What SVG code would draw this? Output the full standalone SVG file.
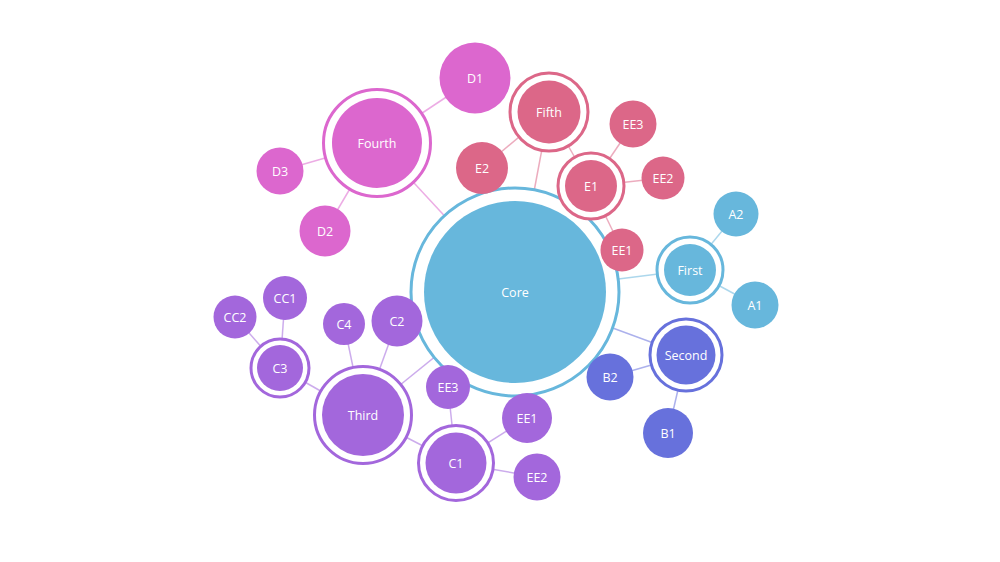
<svg xmlns="http://www.w3.org/2000/svg" width="1000" height="562" viewBox="0 0 1000 562">
<style>
text{font-family:"Open Sans","Noto Sans",sans-serif;font-size:12.5px;fill:#ffffff;text-anchor:middle;dominant-baseline:central}
.ring{fill:#ffffff;stroke-width:3}
line{stroke-width:1.5;stroke-opacity:0.55}
.cA{fill:#67b7dc}.sA{stroke:#67b7dc}
.cB{fill:#6771dc}.sB{stroke:#6771dc}
.cC{fill:#a367dc}.sC{stroke:#a367dc}
.cD{fill:#dc67ce}.sD{stroke:#dc67ce}
.cE{fill:#dc6788}.sE{stroke:#dc6788}
</style>
<rect width="1000" height="562" fill="#ffffff"/>
<g id="connectors">
<line class="sA" x1="515" y1="292" x2="690" y2="270"/>
<line class="sB" x1="515" y1="292" x2="686" y2="355"/>
<line class="sC" x1="515" y1="292" x2="363" y2="415"/>
<line class="sD" x1="515" y1="292" x2="377" y2="143"/>
<line class="sE" x1="515" y1="292" x2="549" y2="112"/>
<line class="sA" x1="690" y1="270" x2="736" y2="214"/>
<line class="sA" x1="690" y1="270" x2="755" y2="305"/>
<line class="sB" x1="686" y1="355" x2="610" y2="377"/>
<line class="sB" x1="686" y1="355" x2="668" y2="433"/>
<line class="sC" x1="363" y1="415" x2="280" y2="368"/>
<line class="sC" x1="363" y1="415" x2="344" y2="324"/>
<line class="sC" x1="363" y1="415" x2="397" y2="321"/>
<line class="sC" x1="363" y1="415" x2="456" y2="463"/>
<line class="sC" x1="280" y1="368" x2="285" y2="298"/>
<line class="sC" x1="280" y1="368" x2="235" y2="317"/>
<line class="sC" x1="456" y1="463" x2="448" y2="387"/>
<line class="sC" x1="456" y1="463" x2="527" y2="418"/>
<line class="sC" x1="456" y1="463" x2="537" y2="477"/>
<line class="sD" x1="377" y1="143" x2="475" y2="78"/>
<line class="sD" x1="377" y1="143" x2="280" y2="171"/>
<line class="sD" x1="377" y1="143" x2="325" y2="231"/>
<line class="sE" x1="549" y1="112" x2="482" y2="168"/>
<line class="sE" x1="549" y1="112" x2="591" y2="186"/>
<line class="sE" x1="591" y1="186" x2="633" y2="124"/>
<line class="sE" x1="591" y1="186" x2="663" y2="178"/>
<line class="sE" x1="591" y1="186" x2="622" y2="250"/>
</g>
<g id="core"><circle class="ring sA" cx="515" cy="292" r="104"/><circle class="cA" cx="515" cy="292" r="91"/><text x="515" y="292">Core</text></g>
<g id="first"><circle class="ring sA" cx="690" cy="270" r="33"/><circle class="cA" cx="690" cy="270" r="26"/><text x="690" y="270">First</text></g>
<g id="a2"><circle class="cA" cx="736" cy="214" r="22.5"/><text x="736" y="214">A2</text></g>
<g id="a1"><circle class="cA" cx="755" cy="305" r="23.5"/><text x="755" y="305">A1</text></g>
<g id="second"><circle class="ring sB" cx="686" cy="355" r="36"/><circle class="cB" cx="686" cy="355" r="29.5"/><text x="686" y="355">Second</text></g>
<g id="b2"><circle class="cB" cx="610" cy="377" r="23.5"/><text x="610" y="377">B2</text></g>
<g id="b1"><circle class="cB" cx="668" cy="433" r="25"/><text x="668" y="433">B1</text></g>
<g id="third"><circle class="ring sC" cx="363" cy="415" r="48.5"/><circle class="cC" cx="363" cy="415" r="41"/><text x="363" y="415">Third</text></g>
<g id="c3"><circle class="ring sC" cx="280" cy="368" r="29"/><circle class="cC" cx="280" cy="368" r="23"/><text x="280" y="368">C3</text></g>
<g id="cc1"><circle class="cC" cx="285" cy="298" r="22"/><text x="285" y="298">CC1</text></g>
<g id="cc2"><circle class="cC" cx="235" cy="317" r="21.5"/><text x="235" y="317">CC2</text></g>
<g id="c4"><circle class="cC" cx="344" cy="324" r="21"/><text x="344" y="324">C4</text></g>
<g id="c2"><circle class="cC" cx="397" cy="321" r="25.5"/><text x="397" y="321">C2</text></g>
<g id="c1"><circle class="ring sC" cx="456" cy="463" r="37.5"/><circle class="cC" cx="456" cy="463" r="30.5"/><text x="456" y="463">C1</text></g>
<g id="c-ee3"><circle class="cC" cx="448" cy="387" r="22"/><text x="448" y="387">EE3</text></g>
<g id="c-ee1"><circle class="cC" cx="527" cy="418" r="25"/><text x="527" y="418">EE1</text></g>
<g id="c-ee2"><circle class="cC" cx="537" cy="477" r="23.5"/><text x="537" y="477">EE2</text></g>
<g id="fourth"><circle class="ring sD" cx="377" cy="143" r="53.5"/><circle class="cD" cx="377" cy="143" r="45"/><text x="377" y="143">Fourth</text></g>
<g id="d1"><circle class="cD" cx="475" cy="78" r="35.5"/><text x="475" y="78">D1</text></g>
<g id="d3"><circle class="cD" cx="280" cy="171" r="23.5"/><text x="280" y="171">D3</text></g>
<g id="d2"><circle class="cD" cx="325" cy="231" r="25.5"/><text x="325" y="231">D2</text></g>
<g id="fifth"><circle class="ring sE" cx="549" cy="112" r="39"/><circle class="cE" cx="549" cy="112" r="31.5"/><text x="549" y="112">Fifth</text></g>
<g id="e2"><circle class="cE" cx="482" cy="168" r="26"/><text x="482" y="168">E2</text></g>
<g id="e1"><circle class="ring sE" cx="591" cy="186" r="33"/><circle class="cE" cx="591" cy="186" r="26"/><text x="591" y="186">E1</text></g>
<g id="e-ee3"><circle class="cE" cx="633" cy="124" r="23.5"/><text x="633" y="124">EE3</text></g>
<g id="e-ee2"><circle class="cE" cx="663" cy="178" r="21.5"/><text x="663" y="178">EE2</text></g>
<g id="e-ee1"><circle class="cE" cx="622" cy="250" r="21.5"/><text x="622" y="250">EE1</text></g>
</svg>
